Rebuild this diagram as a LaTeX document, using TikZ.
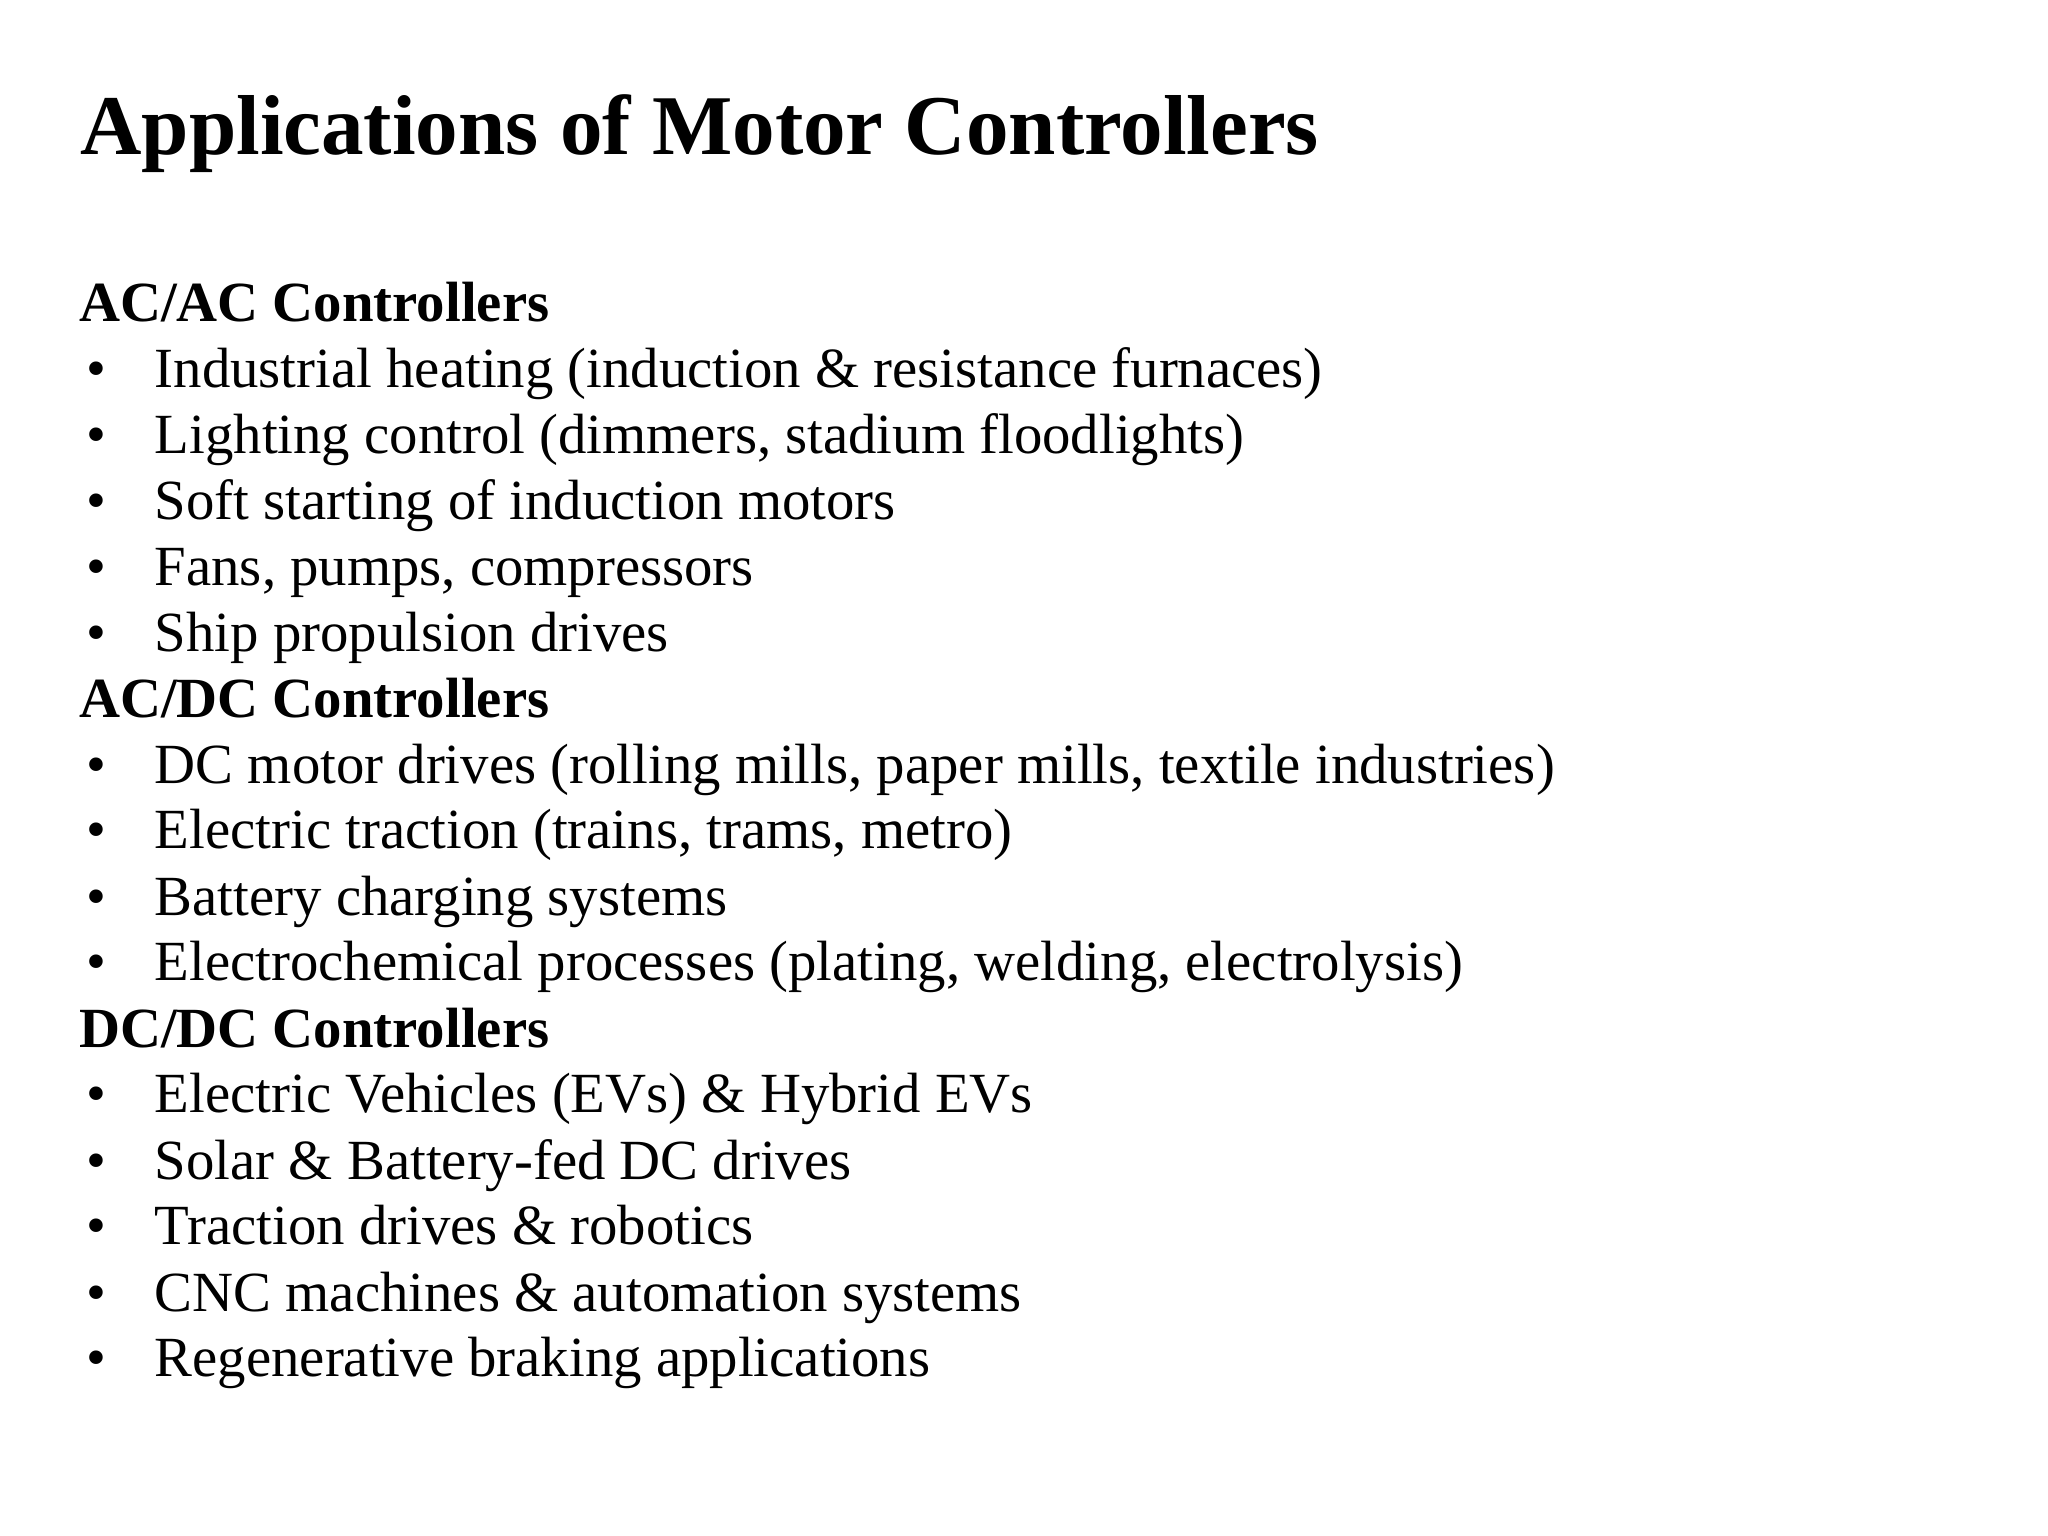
\documentclass[tikz,border=0pt]{standalone}
\usepackage{fontspec}
\setmainfont{Liberation Serif}
\begin{document}
\begin{tikzpicture}[x=0.013061cm,y=-0.013061cm,
  txt/.style={anchor=base west,inner sep=0pt,font=\fontsize{16.15}{18}\selectfont},
  head/.style={txt,font=\fontsize{16.15}{18}\selectfont\bfseries}]
\useasboundingbox (0,0) rectangle (1568,1176);
\node[anchor=base west,inner sep=0pt,font=\fontsize{24.2}{28}\selectfont\bfseries] (title) at (61,118) {Applications of Motor Controllers};
\foreach \y/\t/\k [count=\i] in {
 246/AC\slash AC Controllers/h,
 297/Industrial heating (induction \& resistance furnaces)/b,
 347/Lighting control (dimmers{,} stadium floodlights)/b,
 398/Soft starting of induction motors/b,
 448/Fans{,} pumps{,} compressors/b,
 499/Ship propulsion drives/b,
 549/AC\slash DC Controllers/h,
 600/DC motor drives (rolling mills{,} paper mills{,} textile industries)/b,
 650/Electric traction (trains{,} trams{,} metro)/b,
 701/Battery charging systems/b,
 751/Electrochemical processes (plating{,} welding{,} electrolysis)/b,
 802/DC\slash DC Controllers/h,
 852/Electric Vehicles (EVs) \& Hybrid EVs/b,
 903/Solar \& Battery-fed DC drives/b,
 953/Traction drives \& robotics/b,
 1004/CNC machines \& automation systems/b,
 1054/Regenerative braking applications/b}{
  \if\k h
    \node[head] (l\i) at (60,\y) {\t};
  \else
    \node[txt] (d\i) at (66,\y) {\textbullet};
    \node[txt] (l\i) at (118,\y) {\t};
  \fi
}
\end{tikzpicture}
\end{document}
